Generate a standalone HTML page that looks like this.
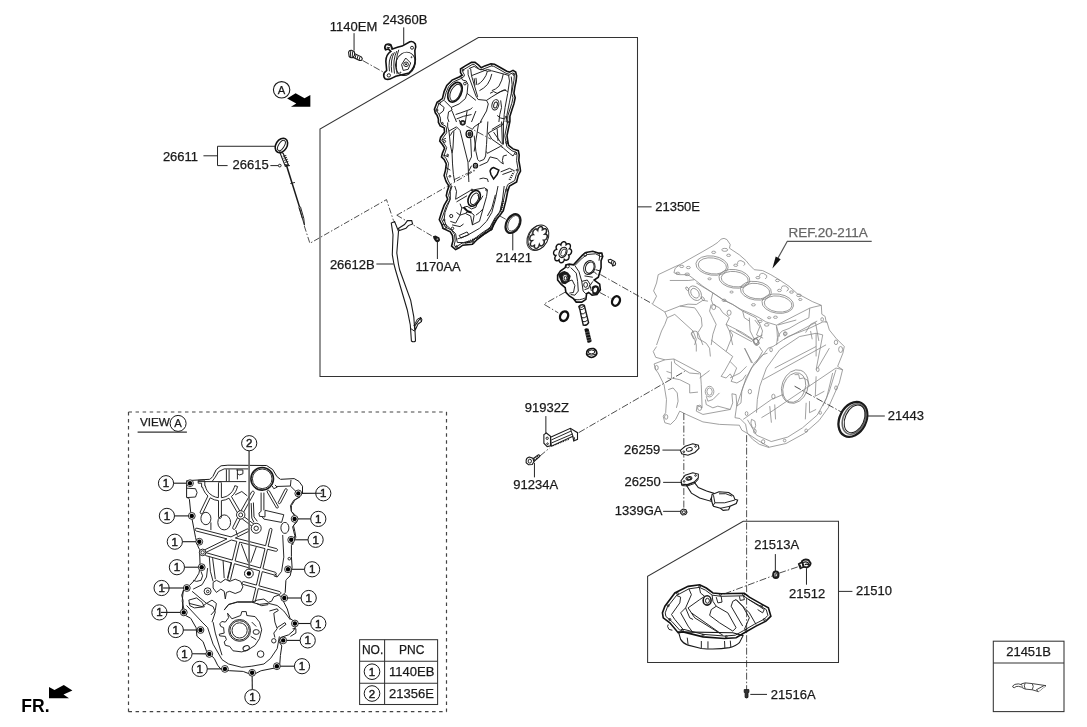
<!DOCTYPE html>
<html lang="en">
<head>
<meta charset="utf-8">
<title>Engine front cover and oil pan parts diagram</title>
<style>
html,body{margin:0;padding:0;background:#fff;}
body{width:1087px;height:727px;overflow:hidden;}
svg{display:block;will-change:transform;}
svg text{font-family:"Liberation Sans",sans-serif;font-size:13px;fill:#1a1a1a;stroke:#1a1a1a;stroke-width:0.25px;}
.l{fill:none;stroke:#1a1a1a;stroke-width:0.95;}
#viewA .l{stroke-width:0.92px;stroke:#222;}
.t{fill:none;stroke:#1a1a1a;stroke-width:0.7;}
.h{fill:none;stroke:#111;stroke-width:1.6;}
.w{fill:#fff;stroke:#1a1a1a;stroke-width:1.1;}
.k{fill:#1a1a1a;stroke:none;}
.d{fill:none;stroke:#222;stroke-width:0.8;stroke-dasharray:7 2 1.5 2;}
.g{fill:none;stroke:#868686;stroke-width:0.78;}
.gw{fill:#fff;stroke:#9a9a9a;stroke-width:0.7;}
.ds{fill:none;stroke:#555;stroke-width:0.9;stroke-dasharray:3 3;}
</style>
</head>
<body>
<svg width="1087" height="727" viewBox="0 0 1087 727">
<rect x="0" y="0" width="1087" height="727" fill="#fff"/>
<!-- main group frame 21350E -->
<g id="frames" fill="none" stroke="#333" stroke-width="1.05">
<path d="M478.4 37.5H637.5V376.5H320V129Z"/>
<path d="M637.5 206.85H651.6"/>
<!-- oil pan frame 21510 -->
<path d="M743.2 521.2H838.5V662.5H647.6V576.3Z"/>
<path d="M838.5 591.4H852.4"/>
<!-- view A dashed box -->
<path d="M128.5 412H446.6M128.5 412V711.7M128.5 711.6H446.6M446.5 412V711.7" stroke="#444" stroke-width="1.2" stroke-dasharray="3.5 3.56"/>
<!-- table -->
<rect x="359.6" y="639.7" width="78" height="64.8"/>
<path d="M384.6 639.7V704.5M359.6 661.3H437.6M359.6 683.3H437.6"/>
<!-- small box 21451B -->
<rect x="993.3" y="641.2" width="70.7" height="70.4"/>
<path d="M993.3 662.9H1064"/>
</g>
<!-- cylinder block reference drawing (light grey) -->
<g id="block">
<g class="g">
<!-- top deck -->
<path d="M717.83 242.39L721.14 239.08Q724.12 237.42 726.93 239.57L730.25 244.54L729.42 248.18L739.35 254.81L745.98 260.6L749.29 264.74L754.26 269.71L762.54 270.54L770.82 274.68L779.1 279.64L789.03 286.27L797.31 293.72L803.93 297.03L812.21 301.5L821.32 305.31L814.04 306.97L809.73 308.13L789.03 318.72L776.61 325.18L765.85 321.87L759.22 317.73L752.6 314.42L741.01 309.45L732.73 304.48L722.79 299.52L712.86 292.89L702.92 286.27L694.64 279.64L688.02 274.68L679.74 274.68L673.95 272.69L675.11 268.38L679.74 264.74L689.68 258.95L702.92 251.49L712.86 245.7Z"/>
<ellipse cx="712.03" cy="265.57" rx="16.23" ry="9.6" transform="rotate(8 712.03 265.57)"/>
<ellipse cx="712.36" cy="265.9" rx="14.24" ry="7.95" transform="rotate(8 712.36 265.9)"/>
<ellipse cx="734.39" cy="278.82" rx="15.57" ry="9.27" transform="rotate(8 734.39 278.82)"/>
<ellipse cx="734.72" cy="279.15" rx="13.58" ry="7.62" transform="rotate(8 734.72 279.15)"/>
<ellipse cx="755.91" cy="290.74" rx="15.57" ry="9.27" transform="rotate(8 755.91 290.74)"/>
<ellipse cx="756.24" cy="291.07" rx="13.58" ry="7.62" transform="rotate(8 756.24 291.07)"/>
<ellipse cx="777.77" cy="303.66" rx="15.9" ry="9.6" transform="rotate(8 777.77 303.66)"/>
<ellipse cx="778.1" cy="303.99" rx="13.91" ry="7.95" transform="rotate(8 778.1 303.99)"/>
<g>
<ellipse cx="713.69" cy="252.32" rx="1.99" ry="1.16"/><ellipse cx="724.78" cy="249.84" rx="2.98" ry="1.49"/><ellipse cx="728.59" cy="255.3" rx="1.99" ry="1.16"/><ellipse cx="681.73" cy="266.4" rx="1.99" ry="1.16"/><ellipse cx="688.35" cy="267.56" rx="1.99" ry="1.16"/><ellipse cx="677.75" cy="273.35" rx="1.99" ry="1.16"/><ellipse cx="687.19" cy="274.35" rx="2.32" ry="1.32"/>
<ellipse cx="735.71" cy="265.24" rx="1.99" ry="1.16"/><ellipse cx="757.9" cy="277.66" rx="1.99" ry="1.16"/><ellipse cx="777.44" cy="280.47" rx="1.99" ry="1.16"/><ellipse cx="779.43" cy="290.41" rx="1.99" ry="1.16"/><ellipse cx="791.51" cy="292.06" rx="1.99" ry="1.16"/><ellipse cx="798.97" cy="295.38" rx="2.32" ry="1.32"/><ellipse cx="800.29" cy="299.52" rx="1.66" ry="0.99"/>
<ellipse cx="709.55" cy="278.82" rx="1.66" ry="0.99"/><ellipse cx="731.57" cy="292.06" rx="1.66" ry="0.99"/><ellipse cx="753.43" cy="304.81" rx="1.99" ry="1.16"/><ellipse cx="724.12" cy="300.34" rx="1.99" ry="1.16"/><ellipse cx="760.05" cy="321.37" rx="1.99" ry="1.16"/><ellipse cx="766.68" cy="324.85" rx="2.32" ry="1.32"/><ellipse cx="769.16" cy="317.73" rx="1.66" ry="0.99"/><ellipse cx="775.45" cy="317.23" rx="1.99" ry="1.16"/>
<path d="M737.7 263.91Q736.87 260.6 741.01 260.6L744.32 262.26Q745.98 264.74 743.49 265.57M759.56 276.33Q759.22 273.02 763.36 273.35L766.68 275.5Q767.5 277.99 765.02 278.82M781.58 288.75Q780.75 285.44 785.39 285.94L788.2 287.92Q789.03 290.41 786.55 291.24"/>
</g>
<!-- front (timing) face -->
<path d="M679.74 264.74L675.6 266.4L658.21 274.68L656.56 282.96L653.58 290.9L656.56 296.2L652.42 304.15L664.84 311.93L679.74 306.14L688.02 304.15L696.3 304.48L702.92 300.34L707.89 301.17M669.81 280.47L688.85 280.47L694.64 279.64M664.84 311.93L667.32 317.73L664.84 324.35L661.53 330.98L656.56 345.05M667.32 317.73L674.77 314.42L692.99 330.98L696.3 339.26L694.64 345.05M692.99 330.98L691.33 334.29L693.82 339.26M679.74 306.14L694.64 307.79L697.13 311.11L701.27 317.73L702.1 326.01L697.96 332.63L702.92 345.05"/>
<ellipse cx="694.98" cy="293.22" rx="3.64" ry="5.3" transform="rotate(-35 694.98 293.22)"/>
<ellipse cx="694.98" cy="293.22" rx="5.63" ry="7.95" transform="rotate(-35 694.98 293.22)"/>
<ellipse cx="687.19" cy="288.75" rx="1.16" ry="1.99" transform="rotate(-35 687.19 288.75)"/><ellipse cx="702.92" cy="298.69" rx="1.16" ry="1.99" transform="rotate(-35 702.92 298.69)"/>
<!-- side -->
<path d="M696.3 282.96L712.86 292.89L722.79 299.52L732.73 304.48L742.67 311.11L755.91 317.73L759.22 322.7L762.54 330.98L760.88 337.6L755.91 345.05M712.86 292.89L711.2 299.52L712.86 304.48L719.48 307.79L722.79 312.76L729.42 317.73L726.11 324.35L732.73 327.67L742.67 332.63L752.6 339.26M711.2 304.48L709.55 311.11L712.86 317.73L716.17 324.35L712.86 334.29L711.2 345.05M726.11 324.35L729.42 330.98L732.73 345.05M742.67 311.11L744.32 317.73L749.29 321.04M749.29 317.73L750.12 330.98L754.26 339.26"/>
<ellipse cx="713.69" cy="306.97" rx="1.99" ry="2.65"/><ellipse cx="729.09" cy="312.76" rx="1.99" ry="2.65"/><ellipse cx="755.91" cy="340.91" rx="1.99" ry="2.98" transform="rotate(-20 755.91 340.91)"/>
<path d="M776.61 325.18L777.44 337.6L776.61 345.05M809.73 308.13L808.9 317.73L798.97 322.7L789.03 328.49L782.41 330.98Q777.44 334.29 777.77 340.91M821.32 305.31L821.82 314.25L825.13 316.41L826.29 323.03M784.06 339.26L808.9 326.01L815.53 322.7M805.59 332.63L810.56 324.35L817.18 321.04M810.56 330.98L812.21 339.26M815.53 322.7L818.84 340.91"/>
<ellipse cx="822.15" cy="319.39" rx="1.32" ry="1.82"/>
<ellipse cx="784.89" cy="333.96" rx="1.32" ry="1.99"/>
</g>
<g class="g">
<path d="M656.56 346.56L653.25 351.53L655.73 357.32L664.84 359.81L673.95 358.98L700.44 373.05L701.27 384.64L702.1 407.83L697.13 405.34L696.3 411.14L702.92 414.45L730.25 409.48L732.73 402.86L731.9 393.75L736.04 394.58L736.87 406.17L741.01 402.86L741.84 391.27L745.98 378.02L754.26 363.12L762.54 354.84L767.5 353.18"/>
<path d="M664.84 359.81L654.08 363.95L655.73 369.74L658.21 373.05L664.01 384.64L666.49 399.55L665.67 412.79L663.18 416.11L664.84 422.73L670.63 424.39L675.6 419.42L679.74 411.14L686.37 414.45L702.92 421.9L719.48 424.39L739.35 425.21L741.84 430.18L747.63 433.49L752.6 439.29L759.22 444.26L769.16 447.57"/>
<path d="M671.46 361.46L671.46 378.02L679.74 379.68L689.68 384.64L689.68 392.92L697.96 392.1M673.95 358.98L674.77 363.12L681.4 368.09L689.68 373.05L699.61 373.88M666.49 371.4L671.46 373.05M667.32 378.02L671.46 378.85M668.15 389.61L673.12 387.96L677.26 392.92L678.09 401.2L676.43 407.83M699.61 378.02L706.24 373.05L709.55 370.57"/>
<path d="M691.33 333.31Q692.99 330 697.13 331.66L697.96 338.28L706.24 343.25L709.55 348.21L710.38 356.49M691.33 333.31L694.64 339.11L696.3 344.9L696.3 351.53M711.2 339.94L726.11 351.53L732.73 356.49L724.45 371.4L721.14 376.37L726.11 378.02L730.25 373.88L732.73 378.02L731.07 381.33L736.87 382.99L742.67 379.68L745.98 374.71M729.42 330L732.73 334.97L726.11 351.53M744.32 348.21L752.6 363.12M759.22 346.56L762.54 351.53L755.91 363.12M736.04 330L752.6 339.94L762.54 334.97"/>
<ellipse cx="756.24" cy="341.92" rx="2.32" ry="3.31" transform="rotate(-30 756.24 341.92)"/>
<ellipse cx="709.55" cy="391.6" rx="2.65" ry="3.64"/><ellipse cx="709.55" cy="391.6" rx="4.31" ry="5.3"/>
<path d="M706.24 396.24L707.89 401.2L712.86 399.55L719.48 392.92M705.41 399.55L706.24 404.52L712.86 407.83L717.83 406.17L730.25 409.48"/>
<ellipse cx="666.16" cy="416.93" rx="1.66" ry="2.32"/><ellipse cx="656.56" cy="367.75" rx="1.66" ry="2.32"/><ellipse cx="699.61" cy="407.83" rx="1.99" ry="2.65"/>
</g>
<g class="g">
<!-- bell housing -->
<path d="M768.09 348.15L773.05 346.49L787.96 336.56L809.48 328.28L822.73 321.99L826.87 321.66L829.35 329.94L835.98 338.21L844.26 346.49L842.93 353.12L837.63 366.37L842.6 369.68L839.29 382.92L832.67 397.83L828.36 407.6L819.09 420.51L804.35 433.43L785.97 443.53L769.41 447.17L758.48 440.72L747.39 433.43L745.57 424.16L739.94 418.53L734.97 417.7L736.62 406.11L743.25 386.24L751.53 368.02L763.12 354.77Z"/>
<path d="M756.49 412.73L757.32 399.48L759.81 386.24L766.43 368.02L779.68 349.81L799.55 336.56L816.11 333.25L822.73 334.9"/>
<path d="M761.46 417.7L769.74 412.73L835.98 368.02L842.6 369.68M743.25 419.35L771.4 399.48L782.99 394.52M763.12 379.61L826.04 344.84M774.71 368.02L816.11 346.49M822.73 334.9L816.11 369.68M816.11 333.25L816.11 356.43M832.67 372.99L826.54 398.32L817.27 415.05L802.53 427.8L787.79 437.07L771.23 441.54L756.66 435.25L747.39 419.69M835.98 369.68L829.35 391.2L822.73 406.11M829.35 348.15L817.76 368.02M769.74 406.11L771.4 422.67M774.71 404.45L775.54 419.35M806.17 402.79L805.34 419.35M809.48 401.14L809.48 412.73L816.11 409.42M816.11 376.3L815.28 396.17L824.39 391.2"/>
<ellipse cx="794.91" cy="386.57" rx="12.92" ry="17.22" transform="rotate(20 794.91 386.57)"/>
<ellipse cx="794.25" cy="387.56" rx="10.93" ry="15.23" transform="rotate(20 794.25 387.56)"/>
<path d="M794.58 374.64L798.72 374.64L799.55 378.78L803.69 377.96L807.83 380.44L809.48 386.24"/>
<ellipse cx="771.07" cy="349.81" rx="1.32" ry="1.99"/><ellipse cx="835.98" cy="342.35" rx="1.66" ry="2.32"/><ellipse cx="840.61" cy="349.48" rx="1.99" ry="2.98"/><ellipse cx="749.87" cy="391.53" rx="1.66" ry="2.32"/><ellipse cx="773.38" cy="396.5" rx="1.66" ry="2.32"/><ellipse cx="746.56" cy="413.56" rx="1.32" ry="1.99"/><ellipse cx="763.12" cy="441.71" rx="1.66" ry="1.99"/><ellipse cx="806.17" cy="430.61" rx="1.32" ry="1.66"/><ellipse cx="754.84" cy="431.28" rx="1.32" ry="1.99"/><ellipse cx="784.64" cy="440.55" rx="1.32" ry="1.32"/><ellipse cx="820.25" cy="412.73" rx="1.16" ry="1.66"/><ellipse cx="835.98" cy="387.89" rx="1.32" ry="1.99"/><ellipse cx="817.76" cy="369.68" rx="1.32" ry="1.99"/><ellipse cx="785.47" cy="333.58" rx="1.66" ry="1.66"/>
<path d="M751.53 419.35Q749.87 422.67 752.35 427.63L754.84 428.46Q756.49 425.98 754.84 421.01Z"/>
<path d="M730 329.94L751.53 341.53L758.15 336.56M744.9 348.15L751.53 363.05M730 377.96L739.94 372.99L746.56 366.37M730 361.4L736.62 368.02L733.31 376.3M754.84 320L759.81 326.62L756.49 334.9L763.12 338.21M776.37 326.62L779.68 336.56M778.02 324.97L796.24 320"/>
<ellipse cx="756.16" cy="341.86" rx="2.65" ry="3.64" transform="rotate(-25 756.16 341.86)"/>
</g>
</g>
<!-- timing chain cover (perspective) -->
<g id="cover">
<path class="h" fill="#fff" d="M460.5 69.0L465.3 65.9L471.5 62.4L475.0 62.4L478.6 65.1L481.2 67.7L484.8 65.9L490.9 63.7L494.5 64.2L500.7 67.7L506.8 71.2L509.5 72.1L513.0 70.4L515.7 72.1L516.6 75.7L516.1 81.0L514.8 87.1L513.9 93.3L515.2 97.7L513.9 103.9L512.1 109.2L509.9 116.3L509.9 121.5L508.2 129.5L507.0 135.7L507.7 141.0L508.6 145.4L513.0 148.9L518.3 150.7L519.2 155.1L518.8 160.4L520.1 167.5L520.5 171.0L518.3 175.4L516.6 182.0L509.5 186.0L507.7 191.3L506.0 200.1L503.3 210.7L500.7 214.3L497.1 218.7L493.6 224.9L491.8 229.3L484.8 233.7L477.7 239.0L474.2 242.5L472.4 244.3L462.7 245.2L459.1 247.8L455.6 249.6L452.5 246.9L451.6 246.1L453.0 240.8L452.5 235.5L450.3 231.9L443.2 228.4L441.5 224.0L439.3 219.6L441.5 212.5L444.1 205.4L447.7 199.2L446.3 195.7L447.2 191.3L449.0 186.0L446.3 182.0L445.5 179.8L444.1 175.4L445.5 170.1L446.3 163.9L444.1 159.5L441.5 156.9L442.4 153.3L444.6 148.0L442.4 144.5L439.7 141.0L440.6 137.4L444.6 132.1L444.1 127.7L440.2 125.9L438.4 122.4L438.4 118.9L437.1 115.4L435.3 112.8L434.4 109.2L437.1 102.2L442.4 98.6L444.1 91.6L446.8 85.4L452.1 80.1L459.1 77.0L462.2 75.2L460.5 72.6Z"/>
<path id="cover-inset" class="l" d="M454.1 245.4L455.9 247.0L462.1 243.1L471.4 242.2L476.4 237.2L483.4 231.9L490.0 227.8L491.7 223.8L495.2 217.6L501.3 209.8L505.6 190.9L507.5 185.1L508.2 184.2L514.7 180.6L516.3 174.6L518.3 170.6L516.6 160.6L517.0 155.2L516.4 152.4L512.0 150.8L506.8 146.6L504.8 135.7L507.7 121.3L507.8 115.8L511.8 103.3L513.0 97.8L511.7 93.3L513.9 80.6L514.3 75.8L513.7 73.5L512.9 72.9L509.6 74.3L506.1 73.3L493.8 66.3L491.2 66.0L481.0 69.9L479.8 69.4L474.3 64.6L472.1 64.6L462.7 70.2L462.7 71.9L464.4 74.8L464.1 76.4L460.2 78.9L453.3 81.9L448.6 86.6L446.2 92.3L444.3 99.7L438.9 103.6L436.7 109.4L437.3 111.9L439.0 114.4L440.5 118.2L440.6 121.9L441.8 124.3L445.4 125.9L446.3 127.3L446.7 132.7L442.6 138.4L442.1 140.5L446.7 147.6L443.9 156.2L446.0 158.3L448.5 163.4L447.6 170.4L446.4 175.4L448.3 181.0L451.2 185.8L448.6 195.5L449.8 198.7L449.7 199.9L446.1 206.4L441.6 219.4L445.0 226.8L451.6 230.2L454.5 234.5L455.2 240.8L454.1 245.4Z"/>
<g>
<g class="l">
<path d="M468.86 68.6L474.16 66.39L479.46 69.48L482.11 69.48L487.41 71.25L491.82 70.81L503.31 73.9L509.49 75.66M467.98 69.48L468.15 74.78L475.93 95.98L478.13 99.51M470.63 68.6L471.51 75.66L477.69 96.86M474.16 78.31L475.04 85.38M475.93 77.87L476.81 84.94M471.51 75.66L487.41 69.48L490.94 70.36"/>
<path d="M487.41 71.25Q486.52 75.66 482.99 80.08Q480.34 83.17 477.69 84.5M491.82 73.9Q490.94 79.2 487.41 84.5Q483.88 88.47 479.46 90.68M503.31 73.9Q502.42 80.08 498.89 86.26Q495.8 89.35 491.82 90.68"/>
<path d="M508.6 75.66L509.49 80.96L507.72 93.33L505.07 107.46L504.19 114.52L503.75 122.03M511.25 76.55L512.14 84.5L511.25 93.33L509.49 102.16L506.84 115.41L506.13 122.03"/>
<path d="M478.13 99.51L486.52 100.39L488.29 103.93L486.52 110.99L482.99 117.17L480.34 122.03M486.52 100.39L491.82 96.86L500.66 91.56L505.96 89.8M490.06 93.33L493.59 91.56L497.12 93.33L504.19 89.8L507.72 91.56M500.66 100.39L501.54 107.46L499.77 114.52L498.89 122.03M497.12 115.41L500.66 118.06L505.07 118.94"/>
<path d="M444.13 100.39L451.2 107.46L452.08 110.11L448.55 111.88L447.66 118.06L448.99 122.03M451.2 107.46L459.15 103.93L465.33 98.63L467.09 93.33L467.98 84.5L466.21 80.96L462.68 80.08M467.09 93.33L475.93 100.39M455.61 114.52L460.91 112.76L470.63 109.23L472.39 107.46M456.5 118.94L463.56 116.29L471.51 114.52M462.68 80.08L460.91 76.99M439.72 103.93L444.13 107.46L443.25 110.99L438.83 114.52"/>
<path d="M452.08 110.99L456.5 122.03M459.15 119.82L460.03 122.03M467.09 110.99L465.33 122.03M475.93 110.99L471.51 122.03"/>
</g>
<ellipse cx="454.99" cy="92.27" rx="6.36" ry="10.42" transform="rotate(25 454.99 92.27)" fill="#fff" stroke="#111" stroke-width="1.7"/>
<ellipse class="l" cx="455.61" cy="92.62" rx="4.86" ry="8.83" transform="rotate(25 455.61 92.62)"/>
<path d="M459.15 95.09L461.35 89.8M458.26 97.3L460.91 92M456.94 99.07L460.03 94.21M455.61 100.39L458.7 96.86" stroke="#333" stroke-width="0.7" fill="none"/>
<ellipse class="l" cx="495.36" cy="104.81" rx="3.36" ry="5.3" transform="rotate(15 495.36 104.81)"/>
<ellipse class="l" cx="495.53" cy="104.99" rx="1.77" ry="3.09" transform="rotate(15 495.53 104.99)"/>
<g class="l"><circle cx="464.89" cy="83.61" r="1.32"/><circle cx="439.27" cy="102.6" r="1.24"/><circle cx="436.89" cy="110.11" r="1.06"/><circle cx="463.12" cy="70.1" r="0.79"/><circle cx="513.73" cy="74.34" r="0.97"/><circle cx="491.82" cy="64.89" r="0.53"/><circle cx="505.96" cy="117.17" r="0.88"/></g>
</g>
<g>
<g class="l">
<path d="M447.66 122.42L447.66 126.83L448.99 131.25L450.31 144.5L452.08 153.33L452.52 163.93L453.4 174.52L454.73 182.03M453.85 131.25L452.96 148.03L452.08 153.33"/>
<path d="M460.91 133.9L460.03 130.36L456.5 126.83L448.55 131.25M460.91 133.9L467.98 162.16L468.86 182.03M470.63 138.31L471.51 156.86L468.86 162.16M474.16 135.66L475.93 151.56L477.69 159.51L479.46 161.28L483.88 159.51L485.64 155.98L486.52 144.5L487.85 121.53M482.11 121.53L474.16 126.83L472.39 129.48M478.58 123.3L474.16 151.56"/>
<path d="M488.29 133.01L502.42 125.07L503.75 121.53M491.82 129.48L500.66 124.18M488.29 133.01L491.82 139.2L500.66 145.38L502.42 146.26M493.59 132.13L501.54 143.61M497.12 128.6L498.01 140.96M501.54 121.53L502.42 144.5M503.48 121.53L503.48 144.5"/>
<path d="M487.41 153.33L500.66 146.26L503.31 148.03L509.49 153.33L513.02 155.98L514.79 153.33M487.41 153.33L486.52 151.56M490.06 156.86L497.12 158.63L500.66 162.16L503.31 163.93L502.42 160.39L503.31 155.98L506.84 155.09M479.46 165.69L487.41 162.16L490.06 156.86"/>
<path d="M500.66 171.88L509.49 168.34L514.79 170.99M502.42 174.52L512.14 170.99M479.46 178.94Q482.99 177.17 487.41 178.94L488.29 182.03M471.51 165.69L468.86 170.99"/>
<path d="M456.5 128.6L452.08 132.13L450.31 135.66M441.48 140.08L445.9 138.31M443.25 155.09L448.55 156.86M445.9 167.46L450.31 170.11"/>
</g>
<path class="d" d="M453.85 179.82L474.16 170.11M466.21 125.95L490.94 139.2"/>
<path d="M490.06 170.99Q490.94 167.9 493.59 167.46L498.89 170.11L497.12 174.52L493.59 178.94L490.94 174.52Z" fill="none" stroke="#111" stroke-width="1.5"/>
<path d="M509.49 179.82L513.9 171.88" stroke="#111" stroke-width="2.2" stroke-dasharray="1 1.2" fill="none"/>
<ellipse cx="462.68" cy="122.86" rx="2.65" ry="2.3" fill="#333" stroke="#111" stroke-width="1"/>
<ellipse cx="462.86" cy="122.86" rx="1.06" ry="0.88" fill="#fff"/>
<ellipse cx="469.3" cy="133.9" rx="3.18" ry="3.53" fill="#fff" stroke="#111" stroke-width="1.4"/>
<ellipse cx="469.57" cy="134.07" rx="1.59" ry="1.94" fill="#444" stroke="#111" stroke-width="1"/>
<ellipse cx="475.48" cy="165.69" rx="2.12" ry="2.3" fill="#fff" stroke="#111" stroke-width="1.2"/>
<ellipse class="l" cx="475.57" cy="165.87" rx="0.88" ry="1.06"/>
<g class="l"><circle cx="506.84" cy="142.73" r="1.06"/><circle cx="515.67" cy="153.33" r="1.06"/><circle cx="507.72" cy="121.97" r="0.88"/><circle cx="444.57" cy="141.4" r="1.06"/><circle cx="447.66" cy="155.09" r="0.88"/><circle cx="449.87" cy="176.29" r="0.88"/><circle cx="442.36" cy="123.3" r="0.88"/><circle cx="517" cy="170.11" r="0.88"/></g>
</g>
<g>
<g class="l">
<path d="M452.08 186L450.31 191.3L450.31 199.25L447.66 205.43L445.01 212.5L444.13 219.56L445.9 224.86L452.08 230.16L455.61 233.69L456.5 238.99L457.38 242.52L463.56 242.52L471.51 240.76L479.46 236.34L486.52 231.04L491.82 225.74L495.36 218.68L499.77 212.5L502.42 200.13L504.19 186"/>
<path d="M455.61 199.25L470.63 190.42L484.76 187.77L487.41 190.42L486.52 196.6L482.99 208.96L479.46 221.33L472.39 224.86L470.63 216.03L465.33 213.38L460.03 215.15L455.61 223.09L450.31 221.33M456.5 201.9L467.09 195.72M452.08 224.86L460.03 226.63L463.56 223.98M457.38 238.99L467.09 235.46L479.46 228.39L486.52 221.33L491.82 212.5L495.36 199.25L498.01 186M487.41 216.03L491.82 208.08L495.36 194.83M454.73 186L456.5 191.3L455.61 199.25"/>
<path d="M459.15 235.46L467.09 231.93L468.86 234.58L460.91 238.11ZM442.81 223.98L446.34 224.86L445.9 229.28L442.36 228.39Z"/>
<path d="M460.03 215.15L461.8 208.08L467.09 206.31L471.51 208.96L475.93 207.2L477.69 201.9M465.33 213.38L468.86 210.73L474.16 215.15L472.39 224.86M461.8 208.08L460.03 203.66M475.93 215.15L479.46 212.5L482.99 208.96M477.69 194.83L480.34 200.13L482.99 195.72M456.5 212.5L460.03 215.15"/>
</g>
<path d="M465.33 243.23L479.46 236.78L487.41 231.04L492.27 225.74L495.8 218.86" stroke="#111" stroke-width="2.4" stroke-dasharray="0.9 1" fill="none"/>
<path d="M500.66 211.61L503.31 200.13" stroke="#111" stroke-width="2.2" stroke-dasharray="0.9 1.1" fill="none"/>
<ellipse cx="474.16" cy="198.36" rx="5.48" ry="8.39" transform="rotate(28 474.16 198.36)" fill="none" stroke="#111" stroke-width="1.6"/>
<ellipse class="l" cx="474.6" cy="198.81" rx="3.53" ry="6.18" transform="rotate(28 474.6 198.81)"/>
<path d="M463.56 207.2L467.98 211.61L471.51 212.5" stroke="#111" stroke-width="2" fill="none"/>
<g class="l"><circle cx="451.2" cy="216.03" r="1.59"/><circle cx="452.52" cy="228.39" r="1.24"/><circle cx="490.94" cy="229.28" r="1.06"/><circle cx="473.28" cy="242.52" r="1.06"/><circle cx="456.5" cy="246.76" r="1.06"/><circle cx="506.84" cy="189.97" r="1.06"/><circle cx="471.95" cy="189.97" r="0.88"/><circle cx="486.52" cy="189.97" r="0.88"/><circle cx="444.13" cy="220" r="0.88"/></g>
</g>
</g>
<!-- bolt 1140EM, sensor 24360B, view arrow A -->
<g id="topleft">
<path class="l" d="M354.06 33.18V50.57M403.73 27.39V44.77"/>
<path class="d" d="M362.67 60.5L383.36 72.1"/>
<!-- bolt -->
<g class="l">
<path class="w" d="M352.73 52.72L361.34 56.86Q363 58.35 361.84 60.01Q360.35 61 359.02 60.17L351.07 56.37Z"/>
<path class="w" d="M348.59 52.23Q349.09 50.07 351.41 50.24L354.06 51.4Q355.21 53.38 354.39 55.54L352.4 57.69Q350.25 58.02 349.09 56.37Z"/>
<path d="M350.74 50.9L350.25 57.19M352.73 51.4L352.07 57.69M356.04 54.71L355.05 58.02M358.03 55.7L357.04 59.18M360.02 56.7L359.02 60.01"/>
</g>
<!-- sensor -->
<g class="l">
<path class="h" fill="#fff" d="M402.08 46.1L409.86 41.79Q413.17 40.63 415.32 43.95Q416.48 47.26 414.83 50.57L415.32 59.68Q414.83 67.96 409.03 72.92L395.78 76.24L392.47 77.89Q388.33 80.38 385.02 78.72Q382.87 76.24 384.19 72.92L386.68 70.44L385.85 61.33Q385.85 54.71 390.82 51.4L388.33 48.91L385.52 49.74Q383.86 47.26 385.85 44.77Q388.33 43.12 390.82 44.77L392.47 48.91L397.44 47.26Z"/>
<ellipse cx="405.39" cy="63.82" rx="9.6" ry="11.92" transform="rotate(20 405.39 63.82)"/>
<path d="M392.47 53.38Q387.84 59.68 389.49 71.27M394.46 52.23Q389.99 59.68 391.81 72.59M396.78 51.07Q392.47 59.68 394.46 73.59M398.76 49.74Q394.96 59.68 397.11 74.25"/>
<path d="M405.72 58.02L410.69 62.99L408.2 69.28L403.24 70.44L401.58 64.64Z"/>
<circle cx="406.05" cy="64.31" r="2.32"/><circle class="k" cx="406.05" cy="64.31" r="0.99"/>
<circle cx="412.01" cy="47.75" r="1.49"/><circle cx="388.83" cy="75.41" r="1.66"/>
<circle cx="411.51" cy="57.19" r="0.5"/><circle cx="400.42" cy="72.59" r="0.5"/>
<path d="M387.5 45.11L390.82 45.6L391.64 49.74M386.68 47.26L389.99 47.75"/>
</g>
<!-- A marker -->
<circle class="w" cx="281.61" cy="89.81" r="8.2"/>
<polygon points="287.16,98.43 295.6,93.13 304.54,98.26 310.34,95.11 310.34,106.7 290.97,106.7 296.26,103.39" fill="#000"/>
</g>
<text x="281.6" y="93.9" text-anchor="middle" style="font-size:11.2px">A</text>
<!-- dipstick 26611 / 26615 and guide tube 26612B -->
<g id="dipstick">
<g>
<path class="l" d="M203.45 155.8H217.52M275.2 146.28H217.52V165.6H227.6M270.37 165.6H278.1"/>
<circle class="l" cx="279.76" cy="165.6" r="1.38"/>
<path class="w" d="M279.76 152.08L283.07 153.18L288.31 164.5L285.28 166.15Z"/>
<path class="l" d="M282.79 156.22L286.24 155.53M283.48 158.29L286.93 157.32M284.17 160.36L287.76 159.25M284.73 162.43L288.31 161.46M285 164.5L289.69 165.6L285.28 166.15"/>
<ellipse class="h" fill="#fff" cx="281.41" cy="145.45" rx="5.52" ry="7.73" transform="rotate(32 281.41 145.45)"/>
<ellipse class="l" cx="281.41" cy="145.45" rx="2.76" ry="5.8" transform="rotate(32 281.41 145.45)"/>
<path d="M286.52 165.46L299.63 207.27" fill="none" stroke="#1a1a1a" stroke-width="1.5"/>
<path class="l" d="M298.8 207.27L303.22 221.07L304.46 225.21M300.46 206.72L303.77 218.31L304.46 225.21M290.38 183.54L294.94 182.44M299.63 207.96L302.39 218.31"/>
</g>
<path class="d" d="M304.3 226L309.9 243.3L386.5 199.6L393.5 220.6M396.8 215.2L475 170.5M396.8 215.2L434 237.2" style="stroke-dasharray:6 2 1.5 2"/>
<path class="w" d="M391.3 223.1L393 234.7L392.3 254.6L394 264.5L395.5 270L407.3 310L410.3 325L411.4 341Q413.4 342.6 415.5 341L414.8 326L420.5 318L421.5 321.5L418 324L414.8 331L413.8 316.9L410.7 300.4L399.7 270L398.5 264.5L396.8 253L398.5 231.4L394.6 221.5Z"/>
<path class="l" d="M410.7 328.5L414.8 331.4M413.8 326L417.5 319L421 317.5Q422.5 319.5 421.5 321.5"/>
<path class="w" d="M398.3 228.5L404.5 224.5L407.5 220.6L411.7 220.6L412.6 224L408.4 225.6L406 228.2L399.3 230.6Z"/>
<path class="l" d="M376.4 264H393.5"/>
<!-- bolt 1170AA -->
<path class="l" d="M437.4 241.5V259"/>
<path class="k" d="M433 236.2L435.5 235.4L439.4 237.5Q440.6 239.6 439.2 241.6Q437 242.8 435.3 241.3L433.6 238.7Z"/>
<circle cx="437.4" cy="239.2" r="0.9" fill="#999"/>
</g>
<!-- seal 21421, rotors, oil pump, o-rings, relief valve -->
<g id="pump">
<g>
<path class="d" d="M499.66 215.87L505.87 219.32"/>
<path class="l" d="M512.77 233.12V250.37"/>
</g>
<!-- seal 21421 -->
<ellipse cx="513" cy="223.6" rx="6.6" ry="10" transform="rotate(28 513 223.6)" fill="#fff" stroke="#1a1a1a" stroke-width="2.2"/>
<ellipse cx="513.6" cy="223.3" rx="5" ry="8.4" transform="rotate(28 513.6 223.3)" fill="none" stroke="#333" stroke-width="0.8"/>
<!-- outer rotor -->
<ellipse cx="537.3" cy="238" rx="9.6" ry="13.2" transform="rotate(28 537.3 238)" fill="#fff" stroke="#333" stroke-width="1"/>
<ellipse cx="538.4" cy="237.5" rx="9.6" ry="13.2" transform="rotate(28 538.4 237.5)" fill="#fff" stroke="#1a1a1a" stroke-width="1"/>
<path d="M543.6 240.1L544.3 240.9L544.4 241.6L544.4 242.2L544.2 242.8L544.1 243.4L543.8 243.9L543.5 244.4L543.1 244.8L542.7 245.2L542.3 245.5L541.8 245.7L541.4 245.8L540.9 245.8L540.4 245.7L539.9 245.4L539.4 244.4L539.2 245.7L538.9 246.5L538.5 247.0L538.1 247.5L537.6 247.8L537.2 248.1L536.7 248.3L536.3 248.3L535.9 248.3L535.5 248.2L535.2 247.9L534.9 247.6L534.6 247.2L534.5 246.7L534.4 246.0L534.8 244.6L533.8 245.7L533.2 246.0L532.7 246.2L532.2 246.2L531.8 246.2L531.4 246.0L531.1 245.7L530.8 245.4L530.6 245.0L530.5 244.5L530.5 244.0L530.5 243.5L530.7 242.9L530.9 242.2L531.3 241.5L532.4 240.6L531.2 240.7L530.7 240.5L530.4 240.2L530.1 239.8L529.9 239.3L529.8 238.9L529.8 238.3L529.9 237.8L530.1 237.3L530.3 236.7L530.6 236.2L530.9 235.8L531.4 235.3L531.9 235.0L532.5 234.7L533.6 234.7L532.9 233.9L532.8 233.2L532.8 232.6L533.0 232.0L533.1 231.4L533.4 230.9L533.7 230.4L534.1 230.0L534.5 229.6L534.9 229.3L535.4 229.1L535.8 229.0L536.3 229.0L536.8 229.1L537.3 229.4L537.8 230.4L538.0 229.1L538.3 228.3L538.7 227.8L539.1 227.3L539.6 227.0L540.0 226.7L540.5 226.5L540.9 226.5L541.3 226.5L541.7 226.6L542.0 226.9L542.3 227.2L542.6 227.6L542.7 228.1L542.8 228.8L542.4 230.2L543.4 229.1L544.0 228.8L544.5 228.6L545.0 228.6L545.4 228.6L545.8 228.8L546.1 229.1L546.4 229.4L546.6 229.8L546.7 230.3L546.7 230.8L546.7 231.3L546.5 231.9L546.3 232.6L545.9 233.3L544.8 234.2L546.0 234.1L546.5 234.3L546.8 234.6L547.1 235.0L547.3 235.5L547.4 235.9L547.4 236.5L547.3 237.0L547.1 237.5L546.9 238.1L546.6 238.6L546.3 239.0L545.8 239.5L545.3 239.8L544.7 240.1L543.6 240.1Z" fill="none" stroke="#1a1a1a" stroke-width="1.3"/>
<path d="M542.9 240.5L543.6 241.3L543.7 242.0L543.7 242.6L543.5 243.2L543.4 243.8L543.1 244.3L542.8 244.8L542.4 245.2L542.0 245.6L541.6 245.9L541.1 246.1L540.7 246.2L540.2 246.2L539.7 246.1L539.2 245.8L538.7 244.8L538.5 246.1L538.2 246.9L537.8 247.4L537.4 247.9L536.9 248.2L536.5 248.5L536.0 248.7L535.6 248.7L535.2 248.7L534.8 248.6L534.5 248.3L534.2 248.0L533.9 247.6L533.8 247.1L533.7 246.4L534.1 245.0L533.1 246.1L532.5 246.4L532.0 246.6L531.5 246.6L531.1 246.6L530.7 246.4L530.4 246.1L530.1 245.8L529.9 245.4L529.8 244.9L529.8 244.4L529.8 243.9L530.0 243.3L530.2 242.6L530.6 241.9L531.7 241.0L530.5 241.1L530.0 240.9L529.7 240.6L529.4 240.2L529.2 239.7L529.1 239.3L529.1 238.7L529.2 238.2L529.4 237.7L529.6 237.1L529.9 236.6L530.2 236.2L530.7 235.7L531.2 235.4L531.8 235.1L532.9 235.1L532.2 234.3L532.1 233.6L532.1 233.0L532.3 232.4L532.4 231.8L532.7 231.3L533.0 230.8L533.4 230.4L533.8 230.0L534.2 229.7L534.7 229.5L535.1 229.4L535.6 229.4L536.1 229.5L536.6 229.8L537.1 230.8L537.3 229.5L537.6 228.7L538.0 228.2L538.4 227.7L538.9 227.4L539.3 227.1L539.8 226.9L540.2 226.9L540.6 226.9L541.0 227.0L541.3 227.3L541.6 227.6L541.9 228.0L542.0 228.5L542.1 229.2L541.7 230.6L542.7 229.5L543.3 229.2L543.8 229.0L544.3 229.0L544.7 229.0L545.1 229.2L545.4 229.5L545.7 229.8L545.9 230.2L546.0 230.7L546.0 231.2L546.0 231.7L545.8 232.3L545.6 233.0L545.2 233.7L544.1 234.6L545.3 234.5L545.8 234.7L546.1 235.0L546.4 235.4L546.6 235.9L546.7 236.3L546.7 236.9L546.6 237.4L546.4 237.9L546.2 238.5L545.9 239.0L545.6 239.4L545.1 239.9L544.6 240.2L544.0 240.5L542.9 240.5Z" fill="none" stroke="#444" stroke-width="0.7"/>
<!-- inner rotor -->
<path d="M568.5 255.0L568.9 255.7L569.1 256.3L569.1 256.9L569.0 257.4L568.9 258.0L568.7 258.5L568.4 259.0L568.1 259.4L567.7 259.7L567.3 260.0L566.8 260.2L566.3 260.3L565.9 260.3L565.4 260.2L564.9 260.0L564.3 259.4L564.1 260.4L563.8 261.0L563.5 261.5L563.1 261.9L562.7 262.3L562.2 262.5L561.8 262.7L561.3 262.8L560.9 262.7L560.5 262.6L560.1 262.4L559.8 262.1L559.5 261.7L559.2 261.2L559.1 260.6L559.1 259.7L558.4 260.3L557.9 260.6L557.3 260.7L556.9 260.7L556.4 260.7L556.0 260.5L555.6 260.3L555.3 260.0L555.1 259.6L554.9 259.1L554.8 258.6L554.8 258.1L554.9 257.5L555.1 256.9L555.4 256.3L555.9 255.5L555.2 255.5L554.7 255.2L554.3 254.9L554.0 254.5L553.8 254.1L553.6 253.6L553.6 253.1L553.6 252.6L553.7 252.1L553.9 251.6L554.1 251.1L554.5 250.6L554.9 250.2L555.3 249.8L555.9 249.6L556.7 249.4L556.3 248.7L556.1 248.1L556.1 247.5L556.2 247.0L556.3 246.4L556.5 245.9L556.8 245.4L557.1 245.0L557.5 244.7L557.9 244.4L558.4 244.2L558.9 244.1L559.3 244.1L559.8 244.2L560.3 244.4L560.9 245.0L561.1 244.0L561.4 243.4L561.7 242.9L562.1 242.5L562.5 242.1L563.0 241.9L563.4 241.7L563.9 241.6L564.3 241.7L564.7 241.8L565.1 242.0L565.4 242.3L565.7 242.7L566.0 243.2L566.1 243.8L566.1 244.7L566.8 244.1L567.3 243.8L567.9 243.7L568.3 243.7L568.8 243.7L569.2 243.9L569.6 244.1L569.9 244.4L570.1 244.8L570.3 245.3L570.4 245.8L570.4 246.3L570.3 246.9L570.1 247.5L569.8 248.1L569.3 248.9L570.0 248.9L570.5 249.2L570.9 249.5L571.2 249.9L571.4 250.3L571.6 250.8L571.6 251.3L571.6 251.8L571.5 252.3L571.3 252.8L571.1 253.3L570.7 253.8L570.3 254.2L569.9 254.6L569.3 254.8L568.5 255.0Z" fill="#fff" stroke="#111" stroke-width="1.4"/>
<ellipse cx="563" cy="252.4" rx="3.6" ry="5.4" transform="rotate(25 563 252.4)" fill="none" stroke="#1a1a1a" stroke-width="1.2"/>
<ellipse cx="563.4" cy="252.6" rx="2.2" ry="3.9" transform="rotate(25 563.4 252.6)" fill="none" stroke="#1a1a1a" stroke-width="0.8"/>
<g></g>
<g>
<path class="d" d="M600.38 274.5L651.99 303.61M565.2 292.16L543.81 304.17L558.3 312.86M599.69 292.44L611.42 298.65"/>
<!-- pump body -->
<path class="h" fill="#fff" d="M582.44 255.18L585.89 252.42L592.79 251.32L598.31 253.11L601.76 253.11L602.73 256.56L601.07 260.7L601.07 267.6L599.69 272.43L598.31 277.26L594.17 280.02L599.69 284.16L600.38 289.68L596.93 294.51L592.1 295.2L588.65 292.44L586.58 293.82L585.89 299.34L581.75 302.1L576.24 302.1L573.48 298.65L569.34 295.89L565.89 292.44L565.2 287.61L561.06 284.16L557.61 280.02L557.61 275.19L560.37 271.05L565.2 267.6L565.89 264.84L569.34 264.15L573.48 264.84Z"/>
<g class="l">
<ellipse cx="589.34" cy="267.6" rx="5.52" ry="7.18" transform="rotate(20 589.34 267.6)"/>
<ellipse cx="589.76" cy="267.6" rx="4.14" ry="5.8" transform="rotate(20 589.76 267.6)"/>
<path d="M574.86 265.53L582.44 257.94L587.27 254.49L595.55 253.8L599.69 255.87L599 260.7M595.55 269.67L600.38 271.05M587.27 274.5L594.17 271.74L596.93 274.5M584.51 275.88L592.79 277.26M574.86 265.53L579 271.74L581.75 281.4L583.13 291.06L585.89 293.82M570.72 267.6L576.24 273.12L577.62 281.4L578.31 291.06L574.86 295.2L570.72 294.51M567.96 281.4L572.1 280.02L574.86 285.54L573.48 292.44L569.34 293.13"/>
<path d="M581.75 281.4L587.27 280.02L590.03 284.16L588.65 288.3L584.51 289.68M592.79 281.4L590.03 285.54L591.41 291.06M574.86 299.34Q579 300.72 585.2 297.96"/>
<ellipse cx="585.62" cy="284.85" rx="1.93" ry="2.48"/>
<circle cx="585.2" cy="254.49" r="1.66"/><circle cx="600.8" cy="254.9" r="1.66"/><circle cx="567.68" cy="266.22" r="1.66"/>
</g>
<path d="M558.3 275.19Q560.37 271.74 564.51 271.05L567.96 272.43L570.72 275.88L569.34 281.4L565.2 284.16L561.75 283.47Z" fill="#1a1a1a"/>
<ellipse cx="565.2" cy="277.95" rx="2.76" ry="3.59" fill="#fff" stroke="#1a1a1a"/>
<ellipse cx="565.47" cy="278.22" rx="1.38" ry="1.93" fill="none" stroke="#1a1a1a"/>
<path d="M591.69 286.92Q594.86 284.16 598.31 286.23L599.69 289.68L596.93 294.09L592.52 294.51Z" fill="#1a1a1a"/>
<ellipse cx="595.28" cy="289.95" rx="2.21" ry="3.04" fill="#fff" stroke="#1a1a1a" transform="rotate(20 595.28 289.95)"/>
<!-- small bolt -->
<path class="w" d="M608.25 260.01L610.46 259.32L614.87 261.8Q616.25 263.46 615.15 265.11L612.8 265.94L611.84 263.73L608.66 262.08Z"/>
<path class="l" d="M611.84 260.7L611.42 263.73M613.49 262.08L612.8 265.67"/>
<!-- o-rings -->
<ellipse cx="615.98" cy="300.99" rx="3.73" ry="4.97" transform="rotate(25 615.98 300.99)" fill="#fff" stroke="#111" stroke-width="2.4"/>
<ellipse cx="564.09" cy="316.17" rx="3.86" ry="4.97" transform="rotate(25 564.09 316.17)" fill="#fff" stroke="#111" stroke-width="2.4"/>
</g>
<g>
<!-- relief valve -->
<path class="w" d="M578.86 306.56Q581.4 303.8 584.38 305.46L588.58 322.57Q586.92 325.88 583.28 325.11L581.07 315.39L579.96 309.87Z" style="stroke-width:1.4px"/>
<path class="l" d="M579.74 309.32Q582.5 310.42 584.71 307.88M580.63 313.74Q583.28 314.84 585.82 312.08M581.51 317.6Q584.16 318.7 586.92 316.28M582.39 321.46Q585.04 322.57 587.8 320.03M579.19 306.56Q581.73 308.55 584.16 306.01"/>
<!-- spring -->
<path d="M584.38 329.19Q586.37 327.54 588.58 328.86L591.67 341.34Q589.9 343.54 587.47 342.44Z" fill="#111"/>
<path d="M585.04 332.5L589.68 331.73M585.71 335.26L590.23 334.38M586.37 338.02L590.78 337.25M586.92 340.56L591.34 339.68" stroke="#999" stroke-width="0.6" fill="none"/>
<!-- plug -->
<path class="h" fill="#fff" d="M586.92 351.27Q588.58 347.96 593.54 348.51Q596.86 350.17 596.86 353.48Q595.75 356.79 591.34 357.56Q587.47 356.79 586.59 354.03Z"/>
<path class="l" d="M588.58 350.94Q591.34 349.06 594.65 350.72L594.32 353.15Q591.34 354.58 588.58 353.15ZM586.92 354.03Q591.34 356.24 596.52 354.03"/>
</g>
</g>
<!-- REF arrow, rear seal 21443, bracket 91932Z, bolt 91234A, gasket 26259, strainer 26250, nut 1339GA -->
<g id="lower">
<path d="M871.7 241.3H787.3L775.5 262.5" fill="none" stroke="#555" stroke-width="1.2"/>
<path d="M772.4 268.4L775.7 256.4L780.7 259.2Z" fill="#111"/>
<!-- seal 21443 -->
<path class="d" d="M794.6 386.2L842.6 412.7"/>
<ellipse cx="852.9" cy="419.4" rx="13.2" ry="18.4" transform="rotate(27 852.9 419.4)" fill="#fff" stroke="#1a1a1a" stroke-width="2.3"/>
<ellipse cx="854" cy="419" rx="10.8" ry="16" transform="rotate(24 854 419)" fill="none" stroke="#666" stroke-width="1.6"/>
<ellipse cx="854.6" cy="418.8" rx="9.4" ry="14.6" transform="rotate(24 854.6 418.8)" fill="none" stroke="#1a1a1a" stroke-width="1"/>
<path class="l" d="M867.4 416H884.8"/>
<g>
<path class="d" d="M578.66 432.66L684.63 371.39M539.74 456.17L549.68 447.89"/>
<path class="l" d="M545.87 416.1V433.82M534.44 462.79V477.37"/>
<path class="w" d="M550.5 437.13L570.38 428.35L577.5 432.66L577.5 439.28L573.69 440.94L572.86 436.3L551.33 446.24Z"/>
<path class="l" d="M551.33 439.94L571.2 431M551.66 442.92L572.86 433.82M570.38 428.35L571.2 431L572.86 436.3M552.99 446.24L553.82 444.91M555.47 445.24L556.3 443.92M557.96 444.25L558.78 442.92M560.44 443.26L561.27 441.93M562.92 442.26L563.75 440.94M565.41 441.27L566.24 439.94M567.89 440.27L568.72 438.95M574.18 437.13L574.52 439.61"/>
<path class="w" d="M543.88 434.64L546.37 432.99L550.5 436.3L550.5 445.9L547.19 446.57L543.88 443.26Z"/>
<circle class="l" cx="547.19" cy="438.29" r="1.16"/><circle class="l" cx="547.52" cy="443.75" r="0.83"/>
<!-- bolt 91234A -->
<path class="w" d="M532.29 459.15L538.42 454.85Q540.07 454.85 539.74 456.5L533.95 461.47Z"/>
<path class="l" d="M533.95 458.16L535.11 460.31M535.6 457L536.76 459.15M537.26 455.84L538.42 457.83"/>
<path class="w" d="M526.16 460.31Q526.49 457.5 529.48 457L532.79 458.16L533.95 461.47L532.29 464.45L528.48 464.78L526.16 462.79Z" stroke-width="1.6"/>
<ellipse class="l" cx="529.81" cy="461.14" rx="1.66" ry="1.99"/>
</g>
<g>
<path class="d" d="M683.82 413.1V509.69M746.61 435.18V695.98"/>
<path class="l" d="M662.44 450.08H680.37M663.13 482.37H681.06M663.13 511.35H681.06"/>
<!-- gasket 26259 -->
<path class="w" d="M680.37 450.36L685.2 446.22L692.79 443.73L698.31 445.11L699 448.29L694.86 452.43L687.96 455.19L681.75 453.81Z" stroke-width="1.4"/>
<ellipse class="l" cx="689.34" cy="449.39" rx="3.04" ry="1.79" transform="rotate(-12 689.34 449.39)"/>
<circle class="l" cx="683.82" cy="451.74" r="0.83"/><circle class="l" cx="695.55" cy="446.49" r="0.83"/>
<!-- strainer 26250 -->
<path class="w" d="M694.17 482.1L698.31 487.62L706.59 491.06L713.49 493.13L711.42 501.41L699.69 497.96L691.41 493.13L686.58 485.55Z"/>
<path class="w" d="M681.06 480.72L685.2 475.2L692.79 472.71L698.31 474.09L698.31 477.96L694.17 482.1L687.27 484.58L681.75 484.17Z" stroke-width="1.6"/>
<path class="l" d="M681.06 482.1L681.75 485.55L687.55 485.96L694.45 483.48L698.31 479.34"/>
<ellipse class="l" cx="688.93" cy="478.37" rx="3.04" ry="1.79" transform="rotate(-12 688.93 478.37)"/>
<ellipse class="l" cx="688.93" cy="478.65" rx="1.93" ry="0.97" transform="rotate(-12 688.93 478.65)"/>
<circle class="l" cx="684.1" cy="481.41" r="0.83"/><circle class="l" cx="695.55" cy="475.47" r="0.83"/>
<path class="w" d="M712.11 494.51L719.01 491.75L728.67 492.44L733.5 495.89L734.88 499.34L737.64 500.03L736.26 503.48L730.05 506.24L728.67 509.69L723.15 510.38L720.39 508.31L713.49 506.24L712.11 502.79L711.42 498.65Z" stroke-width="1.4"/>
<path class="l" d="M719.01 493.82Q725.91 492.44 732.12 496.17M714.87 502.79Q724.53 504.17 734.88 500.03M713.49 495.2L714.87 502.79L712.8 505.83M720.39 508.31L730.05 506.24M711.42 497.27L710.04 500.72"/>
<!-- nut 1339GA -->
<path class="w" d="M681.06 510.38L683.13 509L685.89 509.69L687 512.18L685.62 514.52L682.44 514.94L680.65 513.14Z" stroke-width="1.5"/>
<ellipse class="l" cx="683.82" cy="512.18" rx="1.66" ry="1.38"/>
</g>
</g>
<!-- oil pan 21510, washer 21513A, drain plug 21512, bolt 21516A -->
<g id="oilpan">
<g>
<path class="w" d="M678.48 631.9L680.63 639.35Q683.12 643.49 688.09 645.15L701.33 648.46Q716.24 649.95 729.48 647.63Q736.11 645.98 739.42 642.67L743.06 635.71L732.79 632.73Z" stroke-width="1.4"/>
<path class="l" d="M687.26 637.7L688.09 644.65M701.33 641.01L701.33 647.96M707.96 641.34L707.96 648.63M724.52 641.01L724.85 647.96M730.31 640.68L730.81 646.97"/>
<path class="h" fill="#fff" d="M662.42 612.86L664.9 606.24L674.84 592.99L688.09 586.37L699.68 584.71L706.3 588.02L712.92 592.99L721.2 593.82L744.39 593.32L749.35 597.13L762.6 604.58L768.4 607.89L770.88 616.17L765.91 621.14L755.98 626.11L744.39 632.73L736.11 637.7L724.52 638.53L702.99 636.87L683.12 631.9L678.15 632.73L669.87 622.79L663.25 617.83Z"/>
<path class="l" d="M665.23 612.86L667.39 607.06L676.49 595.47L688.91 588.85L699.35 587.36L705.47 590.17L712.1 595.14L721.2 596.3L743.56 595.8L748.03 599.12L761.28 606.57L766.24 609.55L767.9 615.34L764.26 619.15L754.65 624.12L743.56 630.58L735.28 635.21L724.52 636.04L703.32 634.39L683.95 629.42L679.81 630.25L671.86 621.47L665.9 616.5Z"/>
<path class="l" d="M676.49 595.47L680.63 597.13L679.81 602.92L671.53 614.52L674.84 619.48L683.12 629.42M688.91 588.85L691.4 594.64L685.6 607.89L680.63 612.86L688.09 626.11L693.05 632.73M685.6 607.89L689.74 617.83L693.05 619.48M699.35 587.36L700.5 592.99L704.64 596.3M688.09 607.89L699.68 599.61L704.64 596.3M688.09 607.89L691.4 612.86L719.55 632.73M691.4 612.86L694.71 617.83L722.86 635.21M711.27 609.55L716.24 606.24L727.83 612.86L736.11 627.76L732.79 631.07L719.55 622.79L709.61 615.34ZM712.1 595.14L712.92 601.27L716.24 606.24M732.79 601.27L736.11 599.61L742.73 606.24L749.35 617.83L744.39 629.42M732.79 601.27L731.14 606.24L742.73 626.11M736.11 599.61L749.35 612.86L755.98 624.45M721.2 596.3L722.03 602.1L717.89 602.92L716.24 597.13M743.56 595.8L744.39 599.61L740.25 600.44L739.42 596.3M748.03 599.12L759.29 606.24L764.26 609.55L762.6 612.86L757.63 609.55"/>
<path class="l" d="M668.21 624.45Q666.56 626.11 669.04 629.42L672.35 630.25"/>
<ellipse cx="707.13" cy="600.44" rx="3.97" ry="4.64" fill="#fff" stroke="#1a1a1a" stroke-width="1.6"/>
<ellipse class="l" cx="707.46" cy="600.77" rx="1.99" ry="2.48"/>
<circle class="l" cx="677.32" cy="593.32" r="0.99"/><circle class="l" cx="699.68" cy="586.03" r="0.99"/><circle class="l" cx="720.38" cy="594.64" r="0.99"/><circle class="l" cx="743.56" cy="594.64" r="0.99"/><circle class="l" cx="761.77" cy="605.74" r="0.99"/><circle class="l" cx="764.26" cy="619.48" r="0.99"/><circle class="l" cx="746.04" cy="630.25" r="0.99"/><circle class="l" cx="726.17" cy="636.87" r="0.99"/><circle class="l" cx="702.99" cy="635.21" r="0.99"/><circle class="l" cx="682.29" cy="630.25" r="0.99"/><circle class="l" cx="669.87" cy="619.48" r="0.99"/><circle class="l" cx="668.21" cy="605.74" r="0.99"/>
<path class="d" d="M724.52 593.82L773.36 575.6M779.16 573.12L799.03 566.49"/>
<path class="l" d="M775.35 554.08V571.46M806.48 568.15V584.71"/>
<!-- washer -->
<ellipse cx="775.85" cy="574.77" rx="2.65" ry="3.31" fill="#fff" stroke="#1a1a1a" stroke-width="2"/>
<ellipse class="l" cx="776.18" cy="575.11" rx="1.16" ry="1.66"/>
<!-- drain plug -->
<path class="w" d="M798.7 564.01L802.01 562.02L803.67 566.83L800.36 568.48Z" style="stroke-width:1.5px"/>
<path class="w" d="M802.01 561.2Q804.83 558.55 808.64 560.2L810.62 563.18Q810.29 566.16 807.31 567.32L803.67 566.83Z" style="stroke-width:1.9px"/>
<path class="l" d="M803.17 562.69Q805.65 561.2 808.14 562.85L808.97 565.67M799.86 564.84L801.02 567.32M804.83 564.84Q806.48 563.51 808.14 564.84" style="stroke-width:1.2px"/>
</g>
<!-- bolt 21516A -->
<path class="l" d="M750.3 694.4H767"/>
<path d="M744.2 689.6H748.9V692.4H748V697.4Q746.5 698.6 745.1 697.4V692.4H744.2Z" fill="#333" stroke="#111" stroke-width="0.8"/>
</g>
<!-- sealant tube in 21451B box -->
<g id="tube" fill="#fff" stroke="#333" stroke-width="0.9">
<path d="M1021.45 683.85L1025.31 682.89L1032.21 683.58L1046.01 685.65L1038.42 691.58L1032.21 689.79L1025.31 689.1L1022.28 687.72Z"/>
<path d="M1038.42 691.58L1036.35 689.79L1043.94 685.65L1046.01 685.65"/>
<path d="M1032.21 683.58Q1034.28 686.34 1032.21 689.79M1025.31 682.89Q1023.24 685.65 1025.31 689.1"/>
<path d="M1021.45 684.68L1018.41 683.85Q1014.27 683.85 1012.62 686.06Q1012.62 687.72 1014.27 687.72Q1015.93 686.06 1018.41 686.34L1021.86 687.16"/>
</g>
<!-- VIEW A : front cover bolt map -->
<g id="viewA">
<path d="M181.7 595.2L181.7 595.2L183.1 600.5L183.1 600.7L183.1 600.8L183.1 600.9L182.4 609.0L182.4 609.0L182.4 609.0L183.8 614.5L183.8 614.5L183.8 614.5L190.4 618.1L190.5 618.2L190.6 618.2L190.7 618.3L190.7 618.4L190.8 618.5L190.9 618.6L196.1 627.7L196.1 627.8L196.2 627.9L196.2 628.1L196.2 628.2L196.9 636.2L196.9 636.2L196.9 636.2L202.9 641.5L203.0 641.6L203.1 641.7L203.1 641.8L203.2 641.9L203.2 642.0L206.6 651.4L206.6 651.4L206.6 651.4L214.0 658.1L214.1 658.2L214.1 658.3L214.2 658.4L214.3 658.5L217.6 665.2L217.6 665.2L217.6 665.2L221.0 669.3L221.1 669.3L221.1 669.3L229.3 670.7L229.4 670.7L242.9 671.4L243.1 671.4L243.2 671.4L243.3 671.5L248.6 673.5L248.7 673.5L248.7 673.5L255.5 673.5L255.6 673.5L255.6 673.5L260.9 670.8L261.0 670.7L261.1 670.7L261.2 670.7L274.8 668.0L274.9 668.0L274.9 667.9L279.7 665.2L279.7 665.2L279.7 665.2L280.4 655.6L280.4 655.5L281.8 645.9L281.8 645.9L281.8 645.9L279.3 642.2L279.3 642.1L279.2 642.0L279.2 641.9L279.2 641.8L279.1 641.7L279.1 641.5L279.1 641.4L279.2 641.3L279.2 641.2L280.2 638.2L280.2 638.1L280.3 637.9L280.4 637.8L280.4 637.7L280.5 637.7L280.6 637.6L280.7 637.5L280.8 637.5L281.0 637.4L288.6 634.8L288.7 634.8L288.7 634.8L293.5 630.7L293.5 630.7L293.5 630.7L295.6 626.6L295.6 626.6L295.6 626.5L293.5 621.1L293.5 621.0L293.5 621.0L290.3 618.5L290.3 618.4L290.2 618.3L290.1 618.2L290.0 618.1L290.0 618.0L289.9 617.9L287.3 609.0L287.3 609.0L287.3 609.0L283.2 600.9L283.2 600.8L283.1 600.6L283.1 600.5L282.5 595.8L282.5 595.7L282.5 595.5L282.5 595.4L282.6 595.3L282.6 595.2L282.7 595.1L282.7 595.0L282.8 594.9L282.9 594.8L285.2 592.5L285.2 592.4L285.2 592.4L285.9 580.5L285.9 580.3L285.9 580.2L286.0 580.1L286.0 580.0L286.1 579.9L286.2 579.8L286.2 579.7L290.0 575.9L290.0 575.9L290.1 575.9L292.1 567.6L292.1 567.6L292.1 567.6L291.4 556.6L291.4 556.5L291.4 545.2L291.4 545.1L291.4 545.0L291.5 544.9L291.5 544.8L291.5 544.7L291.6 544.6L293.5 541.4L293.5 541.4L295.8 537.3L295.8 537.3L295.8 537.2L294.9 531.8L294.9 531.7L293.6 526.2L293.6 526.0L293.6 525.9L293.6 525.8L293.6 525.7L293.6 525.6L293.7 525.5L293.7 525.4L293.8 525.3L293.8 525.2L293.9 525.1L296.7 522.1L296.7 522.1L296.7 522.1L296.9 518.7L296.9 518.6L296.9 518.6L294.2 515.2L294.2 515.2L291.4 511.4L291.3 511.3L291.3 511.2L291.2 511.1L291.2 511.0L291.2 510.9L291.2 510.7L291.2 510.6L291.4 505.8L291.4 505.7L291.5 505.6L291.5 505.5L291.5 505.4L291.6 505.3L294.8 500.2L294.8 500.1L294.9 500.0L295.0 500.0L295.1 499.9L299.7 496.6L299.7 496.6L299.7 496.5L302.5 493.1L302.5 493.1L302.5 493.1L302.5 486.2L302.5 486.2L302.5 486.2L299.0 481.4L299.0 481.4L299.0 481.4L294.2 478.6L294.2 478.6L294.2 478.6L280.8 479.3L280.7 479.3L280.6 479.3L280.5 479.3L280.4 479.2L280.2 479.2L280.1 479.1L280.0 479.0L277.1 476.7L277.0 476.6L277.0 476.5L276.9 476.5L276.8 476.4L272.8 469.7L272.8 469.7L272.8 469.6L266.6 465.5L266.6 465.5L266.6 465.5L228.0 465.2L227.9 465.2L221.1 465.8L221.1 465.8L221.0 465.8L216.3 469.6L216.2 469.7L216.2 469.7L212.9 476.4L212.8 476.5L212.7 476.6L212.6 476.7L210.3 479.0L210.2 479.1L210.1 479.2L210.0 479.2L209.9 479.3L209.8 479.3L209.7 479.3L209.6 479.3L186.6 480.7L186.6 480.7L186.6 480.7L186.6 497.2L186.6 497.3L186.6 497.3L188.7 498.3L188.8 498.4L188.9 498.5L189.0 498.5L189.1 498.6L189.2 498.7L189.2 498.8L189.3 498.9L189.3 499.1L189.4 499.2L189.4 499.3L190.7 512.4L190.7 512.5L192.1 519.3L192.1 519.3L195.5 537.3L195.5 537.3L197.6 545.5L197.6 545.6L197.6 545.6L199.5 549.4L199.6 549.5L199.6 549.6L199.6 549.8L199.7 549.9L199.7 550.0L199.7 553.8L199.7 553.8L200.1 566.1L200.1 566.2L200.1 566.3L199.0 572.9L199.0 573.0L199.0 573.1L198.9 573.2L198.9 573.3L194.9 579.9L194.8 580.0L194.7 580.1L189.4 585.5L189.3 585.6L183.8 589.7L183.8 589.7L183.8 589.7L181.7 595.2L181.7 595.2Z" fill="#fff" stroke="#1a1a1a" stroke-width="1"/>
<path d="M203.5 489.9L205.4 493.2L207.9 496.0L200.2 512.0L200.2 512.9L200.8 513.7L201.9 513.9L202.8 513.2L210.2 497.8L214.3 499.8L218.5 500.6L218.5 516.9L218.8 517.7L219.3 518.2L220.0 518.3L220.6 518.2L221.2 517.7L221.4 517.0L221.4 500.6L225.5 499.8L229.0 498.2L238.4 514.4L239.0 514.9L239.7 515.0L240.3 514.8L240.8 514.3L241.1 513.5L240.9 512.8L231.4 496.5L233.4 494.7L235.5 491.7L236.4 489.9L237.6 486.5L234.8 485.7L234.3 487.3L233.0 490.2L232.2 491.5L230.1 493.9L227.5 495.7L226.1 496.5L223.1 497.4L221.4 497.7L221.4 483.1L221.2 482.4L220.6 481.9L220.0 481.8L219.3 481.9L218.8 482.4L218.5 483.1L218.4 497.7L215.3 497.0L212.4 495.7L209.9 493.9L208.7 492.8L206.9 490.2L206.2 488.8L205.2 485.7L204.8 485.8L204.8 481.4L204.2 480.3L203.5 480.0L198.2 480.3L198.2 483.2L201.6 483.2L201.6 487.1L202.5 487.1L203.5 489.9ZM276.4 551.3L277.1 550.9L277.5 550.1L277.4 549.3L276.8 548.7L268.1 546.4L272.0 529.8L271.8 528.8L271.0 528.3L270.2 528.4L269.5 529.2L265.6 545.7L235.3 538.0L248.4 531.5L248.9 530.8L249.0 530.1L248.6 529.4L247.9 528.9L246.9 529.1L231.0 536.9L196.9 528.2L195.8 528.3L195.2 529.2L195.3 530.3L196.2 531.0L227.0 538.9L201.9 551.2L201.3 551.8L201.2 552.7L201.5 553.3L202.2 553.8L203.3 553.7L231.3 540.0L236.8 541.4L232.3 560.1L206.8 552.9L206.0 552.9L205.5 553.3L205.1 554.1L205.1 554.8L205.5 555.4L206.1 555.7L231.6 562.9L227.7 579.0L228.0 580.0L228.8 580.6L229.9 580.4L230.5 579.6L234.4 563.7L259.7 570.9L256.4 585.1L243.7 581.6L242.6 581.8L242.1 582.8L242.2 583.7L243.0 584.4L255.8 587.9L252.7 601.1L252.9 601.9L253.7 602.5L254.5 602.4L255.2 601.7L258.3 588.6L279.1 594.4L280.1 594.2L280.7 593.6L280.7 592.4L279.9 591.6L258.9 585.8L262.3 571.6L274.7 575.1L275.7 574.9L276.2 574.3L276.3 573.2L275.5 572.3L262.9 568.7L267.5 549.2L275.7 551.3L276.4 551.3ZM265.0 548.6L260.4 568.0L235.1 560.9L239.6 542.1L265.0 548.6ZM278.2 502.5L278.4 503.2L279.0 503.7L279.8 503.6L280.4 503.2L287.1 490.3L287.1 489.5L286.6 488.8L285.7 488.7L285.0 489.2L278.2 502.5ZM276.5 508.0L277.3 508.1L277.9 507.9L278.3 507.3L278.2 506.5L269.3 490.8L268.6 490.3L267.8 490.4L267.2 491.1L267.2 492.0L276.5 508.0ZM254.3 492.6L254.0 491.7L253.3 491.2L252.3 491.3L251.7 491.8L241.0 510.8L241.0 511.8L241.5 512.6L242.6 512.8L243.6 512.2L254.1 493.3L254.3 492.6ZM252.6 526.6L253.5 526.5L254.2 525.8L254.3 524.8L253.9 524.1L244.2 516.8L243.3 516.6L242.4 517.0L242.0 518.0L242.5 519.1L252.0 526.3L252.6 526.6ZM232.6 528.0L233.0 528.9L233.7 529.3L234.7 529.3L235.3 528.7L240.4 518.5L240.4 517.5L239.8 516.8L238.7 516.6L237.8 517.2L232.8 527.3L232.6 528.0Z" fill="none" stroke="#1c1c1c" stroke-width="0.95" stroke-linejoin="round"/>
<path d="M198.2 481.6L212.0 481.6L215.3 477.1L218.6 471.6L224.2 468.9L248.4 468.9M212.0 481.6L246.2 481.6M226.4 469.4L226.4 481.3M229.1 469.4L229.1 481.3M237.4 469.4L237.4 479.4M236.3 470.0L242.9 470.0L242.9 473.8L239.6 474.9L237.4 473.8M186.6 488.2L195.5 488.7L197.1 492.6L195.5 497.0L186.6 497.6M276.0 486.5L290.4 486.0L291.0 479.9M290.4 486.0L297.0 492.6M300.0 497.0L293.7 500.3L290.4 505.8L291.5 511.4L294.8 514.7L295.9 522.4L292.6 526.8L294.8 535.7L292.6 545.0M253.4 502.5L254.0 516.9L257.3 521.3M251.2 503.1L251.8 518.0L254.0 522.4M261.1 492.6L261.1 511.4L258.9 513.0L259.5 516.3L265.0 516.9L265.0 510.3L283.8 514.7L281.6 522.4L263.9 519.1L262.2 516.9M263.9 492.6L263.9 510.3M235.2 494.8L241.8 491.5L247.3 495.9M210.9 522.4L210.9 530.1M235.8 530.1L237.4 535.7M274.9 484.9L277.2 487.1L273.8 488.7L272.2 486.0M241.3 543.8L248.4 562.6M256.2 547.1L250.7 562.6M209.3 557.1L210.4 571.4L213.1 581.4M212.6 558.2L215.3 579.2M223.1 560.9L224.2 578.1M231.3 562.0L227.5 578.1M213.1 582.5L216.4 580.3L220.8 582.5L225.3 579.2L229.7 581.4L235.2 579.2L240.7 581.4L242.9 586.9L240.7 591.3L235.2 593.5L229.7 591.3L226.4 592.4L225.3 599.0L224.2 591.3L220.8 589.1L216.4 592.4L213.1 588.0ZM201.0 571.4L202.6 575.8L201.0 580.3L196.6 581.4L193.2 580.3M207.6 568.1L206.5 577.0L202.1 584.7L193.2 589.1M192.1 591.3L206.5 603.4L212.0 600.1L216.4 603.4L215.3 610.1L210.9 615.0M188.8 600.1L196.6 597.9L202.1 602.3L204.3 606.8L194.4 607.9L189.9 605.7ZM224.2 610.1L228.6 604.6L237.4 601.8L252.9 601.8L257.3 600.1L263.9 599.0L268.3 602.3L271.6 601.2L273.8 596.8L278.3 595.2L283.8 597.9M256.2 603.4L261.7 605.7L268.3 604.6M282.7 535.0L283.8 557.1L281.6 571.4L277.2 577.0L273.8 575.8M274.9 573.6L277.2 577.0M183.3 590.2L182.2 601.2L184.4 611.2M186.6 605.5L202.1 622.1L207.6 627.6L213.1 644.2L222.0 659.6L228.6 664.0L241.8 667.3L251.8 666.2L263.9 664.0L270.5 658.5L277.2 648.6L279.4 636.4M213.1 622.1L215.3 633.1L222.0 655.2M224.2 609.9L228.6 604.4L237.4 602.2L251.8 602.2L259.5 604.4L268.3 603.3L277.2 605.5L283.8 611.0L290.4 619.9M227.5 613.2L231.9 618.8L240.7 615.5L241.8 611.6L246.2 611.6L246.8 615.5L255.1 616.6L259.5 622.1L261.7 629.8L259.5 638.6L255.1 645.3L248.4 649.7L241.8 651.9L233.0 650.8L229.7 646.4L225.3 645.3L224.2 642.0L226.4 639.7L225.3 636.4L219.7 635.9L219.2 634.2L224.2 633.1L223.6 627.6L220.8 626.5L219.7 623.7L222.0 621.5L225.3 622.1L228.6 617.7ZM269.4 611.0L277.2 608.8L278.3 610.5L273.8 613.2L274.9 622.1L277.2 628.7L273.8 633.1L274.9 637.5M277.2 627.6L284.9 622.6L286.0 624.3L279.4 629.3M292.6 628.7L295.9 628.7L295.9 633.1L290.4 636.4M188.8 603.3L202.1 606.6L206.5 603.3L213.1 606.6L215.3 612.1L212.0 622.1M251.8 622.1L256.2 626.5M250.7 636.4L256.2 639.7" fill="none" stroke="#1c1c1c" stroke-width="0.95" stroke-linejoin="round"/>
<circle cx="240.7" cy="514.9" r="4.2" fill="#fff" stroke="#1c1c1c" stroke-width="0.95"/>
<circle cx="240.7" cy="514.9" r="2.0" fill="none" stroke="#1c1c1c" stroke-width="0.95"/>
<circle cx="256.2" cy="528.3" r="5.0" fill="#fff" stroke="#1c1c1c" stroke-width="0.95"/>
<circle cx="256.2" cy="528.3" r="2.2" fill="none" stroke="#1c1c1c" stroke-width="0.95"/>
<circle cx="202.6" cy="552.4" r="3.3" fill="#fff" stroke="#1c1c1c" stroke-width="0.95"/>
<circle cx="202.6" cy="552.4" r="1.7" fill="none" stroke="#1c1c1c" stroke-width="0.95"/>
<ellipse cx="205.9" cy="518.5" rx="5.0" ry="6.2" fill="none" stroke="#1c1c1c" stroke-width="0.95"/>
<ellipse cx="224.2" cy="522.4" rx="6.4" ry="7.5" fill="none" stroke="#1c1c1c" stroke-width="0.95"/>
<ellipse cx="284.9" cy="527.9" rx="4.0" ry="5.5" fill="none" stroke="#1c1c1c" stroke-width="0.95"/>
<circle cx="262.2" cy="478.8" r="11.3" fill="#fff" stroke="#1a1a1a" stroke-width="1.6"/>
<circle cx="262.2" cy="478.8" r="9.8" fill="none" stroke="#1a1a1a" stroke-width="0.9"/>
<ellipse cx="207.6" cy="591.3" rx="3.5" ry="3.5" fill="none" stroke="#1c1c1c" stroke-width="0.95"/>
<ellipse cx="207.8" cy="591.5" rx="1.3" ry="1.3" fill="none" stroke="#1c1c1c" stroke-width="0.95"/>
<ellipse cx="289.3" cy="558.7" rx="1.3" ry="1.3" fill="none" stroke="#1c1c1c" stroke-width="0.95"/>
<circle cx="239.6" cy="630.4" r="10.9" fill="none" stroke="#1c1c1c" stroke-width="0.95"/>
<circle cx="239.6" cy="630.4" r="9.7" fill="none" stroke="#1c1c1c" stroke-width="0.95"/>
<circle cx="239.6" cy="630.4" r="7.6" fill="none" stroke="#1c1c1c" stroke-width="0.95"/>
<ellipse cx="256.2" cy="632.0" rx="3.1" ry="2.4" fill="none" stroke="#1c1c1c" stroke-width="0.95"/>
<ellipse cx="246.2" cy="648.2" rx="3.3" ry="2.4" transform="rotate(-25 246.2 648.2)" fill="none" stroke="#1c1c1c" stroke-width="0.95"/>
<ellipse cx="260.6" cy="654.1" rx="3.3" ry="3.3" fill="none" stroke="#1c1c1c" stroke-width="0.95"/>
<ellipse cx="273.8" cy="640.8" rx="2.2" ry="2.2" fill="none" stroke="#1c1c1c" stroke-width="0.95"/>
</g>
<!-- bolt callouts -->
<g id="callouts">
<circle cx="166" cy="483.2" r="7.6" fill="#fff" stroke="#1a1a1a" stroke-width="1"/>
<path d="M190 483.2L173.6 483.2" stroke="#1a1a1a" stroke-width="1.1" fill="none"/>
<circle cx="190" cy="483.2" r="3.4" fill="#fff" stroke="#1a1a1a" stroke-width="0.9"/>
<circle cx="190" cy="483.2" r="2.2" fill="#000"/>
<text x="166" y="487.2" text-anchor="middle" style="font-size:11.5px;stroke-width:0.45px">1</text>
<circle cx="166.9" cy="515.9" r="7.6" fill="#fff" stroke="#1a1a1a" stroke-width="1"/>
<path d="M191.8 515.9L174.5 515.9" stroke="#1a1a1a" stroke-width="1.1" fill="none"/>
<circle cx="191.8" cy="515.9" r="3.4" fill="#fff" stroke="#1a1a1a" stroke-width="0.9"/>
<circle cx="191.8" cy="515.9" r="2.2" fill="#000"/>
<text x="166.9" y="519.9" text-anchor="middle" style="font-size:11.5px;stroke-width:0.45px">1</text>
<circle cx="174.8" cy="541.7" r="7.6" fill="#fff" stroke="#1a1a1a" stroke-width="1"/>
<path d="M199.3 541.7L182.4 541.7" stroke="#1a1a1a" stroke-width="1.1" fill="none"/>
<circle cx="199.3" cy="541.7" r="3.4" fill="#fff" stroke="#1a1a1a" stroke-width="0.9"/>
<circle cx="199.3" cy="541.7" r="2.2" fill="#000"/>
<text x="174.8" y="545.7" text-anchor="middle" style="font-size:11.5px;stroke-width:0.45px">1</text>
<circle cx="176.9" cy="567.2" r="7.6" fill="#fff" stroke="#1a1a1a" stroke-width="1"/>
<path d="M201.7 567.2L184.5 567.2" stroke="#1a1a1a" stroke-width="1.1" fill="none"/>
<circle cx="201.7" cy="567.2" r="3.4" fill="#fff" stroke="#1a1a1a" stroke-width="0.9"/>
<circle cx="201.7" cy="567.2" r="2.2" fill="#000"/>
<text x="176.9" y="571.2" text-anchor="middle" style="font-size:11.5px;stroke-width:0.45px">1</text>
<circle cx="161.6" cy="588" r="7.6" fill="#fff" stroke="#1a1a1a" stroke-width="1"/>
<path d="M186.8 588L163.1 588.0" stroke="#1a1a1a" stroke-width="1.1" fill="none"/>
<circle cx="186.8" cy="588" r="3.4" fill="#fff" stroke="#1a1a1a" stroke-width="0.9"/>
<circle cx="186.8" cy="588" r="2.2" fill="#000"/>
<text x="161.6" y="592.0" text-anchor="middle" style="font-size:11.5px;stroke-width:0.45px">1</text>
<circle cx="159.4" cy="612.4" r="7.6" fill="#fff" stroke="#1a1a1a" stroke-width="1"/>
<path d="M183.8 612.4L160.9 612.4" stroke="#1a1a1a" stroke-width="1.1" fill="none"/>
<circle cx="183.8" cy="612.4" r="3.4" fill="#fff" stroke="#1a1a1a" stroke-width="0.9"/>
<circle cx="183.8" cy="612.4" r="2.2" fill="#000"/>
<text x="159.4" y="616.4" text-anchor="middle" style="font-size:11.5px;stroke-width:0.45px">1</text>
<circle cx="175.8" cy="630" r="7.6" fill="#fff" stroke="#1a1a1a" stroke-width="1"/>
<path d="M200.5 630L183.4 630.0" stroke="#1a1a1a" stroke-width="1.1" fill="none"/>
<circle cx="200.5" cy="630" r="3.4" fill="#fff" stroke="#1a1a1a" stroke-width="0.9"/>
<circle cx="200.5" cy="630" r="2.2" fill="#000"/>
<text x="175.8" y="634.0" text-anchor="middle" style="font-size:11.5px;stroke-width:0.45px">1</text>
<circle cx="184.5" cy="653.7" r="7.6" fill="#fff" stroke="#1a1a1a" stroke-width="1"/>
<path d="M209.3 653.9L192.1 653.8" stroke="#1a1a1a" stroke-width="1.1" fill="none"/>
<circle cx="209.3" cy="653.9" r="3.4" fill="#fff" stroke="#1a1a1a" stroke-width="0.9"/>
<circle cx="209.3" cy="653.9" r="2.2" fill="#000"/>
<text x="184.5" y="657.7" text-anchor="middle" style="font-size:11.5px;stroke-width:0.45px">1</text>
<circle cx="199.7" cy="668.9" r="7.6" fill="#fff" stroke="#1a1a1a" stroke-width="1"/>
<path d="M224.9 668.9L207.3 668.9" stroke="#1a1a1a" stroke-width="1.1" fill="none"/>
<circle cx="224.9" cy="668.9" r="3.4" fill="#fff" stroke="#1a1a1a" stroke-width="0.9"/>
<circle cx="224.9" cy="668.9" r="2.2" fill="#000"/>
<text x="199.7" y="672.9" text-anchor="middle" style="font-size:11.5px;stroke-width:0.45px">1</text>
<circle cx="252.4" cy="697.2" r="7.6" fill="#fff" stroke="#1a1a1a" stroke-width="1"/>
<path d="M252.1 672.8L252.3 689.6" stroke="#1a1a1a" stroke-width="1.1" fill="none"/>
<circle cx="252.1" cy="672.8" r="3.4" fill="#fff" stroke="#1a1a1a" stroke-width="0.9"/>
<circle cx="252.1" cy="672.8" r="2.2" fill="#000"/>
<text x="252.4" y="701.2" text-anchor="middle" style="font-size:11.5px;stroke-width:0.45px">1</text>
<circle cx="302" cy="666.2" r="7.6" fill="#fff" stroke="#1a1a1a" stroke-width="1"/>
<path d="M276.9 666.2L294.4 666.2" stroke="#1a1a1a" stroke-width="1.1" fill="none"/>
<circle cx="276.9" cy="666.2" r="3.4" fill="#fff" stroke="#1a1a1a" stroke-width="0.9"/>
<circle cx="276.9" cy="666.2" r="2.2" fill="#000"/>
<text x="302" y="670.2" text-anchor="middle" style="font-size:11.5px;stroke-width:0.45px">1</text>
<circle cx="307.7" cy="640.4" r="7.6" fill="#fff" stroke="#1a1a1a" stroke-width="1"/>
<path d="M283.2 640.4L300.1 640.4" stroke="#1a1a1a" stroke-width="1.1" fill="none"/>
<circle cx="283.2" cy="640.4" r="3.4" fill="#fff" stroke="#1a1a1a" stroke-width="0.9"/>
<circle cx="283.2" cy="640.4" r="2.2" fill="#000"/>
<text x="307.7" y="644.4" text-anchor="middle" style="font-size:11.5px;stroke-width:0.45px">1</text>
<circle cx="318.3" cy="623.5" r="7.6" fill="#fff" stroke="#1a1a1a" stroke-width="1"/>
<path d="M294.9 623.5L310.7 623.5" stroke="#1a1a1a" stroke-width="1.1" fill="none"/>
<circle cx="294.9" cy="623.5" r="3.4" fill="#fff" stroke="#1a1a1a" stroke-width="0.9"/>
<circle cx="294.9" cy="623.5" r="2.2" fill="#000"/>
<text x="318.3" y="627.5" text-anchor="middle" style="font-size:11.5px;stroke-width:0.45px">1</text>
<circle cx="308.7" cy="598" r="7.6" fill="#fff" stroke="#1a1a1a" stroke-width="1"/>
<path d="M284.3 598L301.1 598.0" stroke="#1a1a1a" stroke-width="1.1" fill="none"/>
<circle cx="284.3" cy="598" r="3.4" fill="#fff" stroke="#1a1a1a" stroke-width="0.9"/>
<circle cx="284.3" cy="598" r="2.2" fill="#000"/>
<text x="308.7" y="602.0" text-anchor="middle" style="font-size:11.5px;stroke-width:0.45px">1</text>
<circle cx="312.1" cy="569.3" r="7.6" fill="#fff" stroke="#1a1a1a" stroke-width="1"/>
<path d="M288 569.3L304.5 569.3" stroke="#1a1a1a" stroke-width="1.1" fill="none"/>
<circle cx="288" cy="569.3" r="3.4" fill="#fff" stroke="#1a1a1a" stroke-width="0.9"/>
<circle cx="288" cy="569.3" r="2.2" fill="#000"/>
<text x="312.1" y="573.3" text-anchor="middle" style="font-size:11.5px;stroke-width:0.45px">1</text>
<circle cx="315.6" cy="539.8" r="7.6" fill="#fff" stroke="#1a1a1a" stroke-width="1"/>
<path d="M291.2 539.8L308.0 539.8" stroke="#1a1a1a" stroke-width="1.1" fill="none"/>
<circle cx="291.2" cy="539.8" r="3.4" fill="#fff" stroke="#1a1a1a" stroke-width="0.9"/>
<circle cx="291.2" cy="539.8" r="2.2" fill="#000"/>
<text x="315.6" y="543.8" text-anchor="middle" style="font-size:11.5px;stroke-width:0.45px">1</text>
<circle cx="318.3" cy="518.9" r="7.6" fill="#fff" stroke="#1a1a1a" stroke-width="1"/>
<path d="M294.6 518.9L310.7 518.9" stroke="#1a1a1a" stroke-width="1.1" fill="none"/>
<circle cx="294.6" cy="518.9" r="3.4" fill="#fff" stroke="#1a1a1a" stroke-width="0.9"/>
<circle cx="294.6" cy="518.9" r="2.2" fill="#000"/>
<text x="318.3" y="522.9" text-anchor="middle" style="font-size:11.5px;stroke-width:0.45px">1</text>
<circle cx="323.3" cy="493.3" r="7.6" fill="#fff" stroke="#1a1a1a" stroke-width="1"/>
<path d="M298.3 493.4L321.8 493.3" stroke="#1a1a1a" stroke-width="1.1" fill="none"/>
<circle cx="298.3" cy="493.4" r="3.4" fill="#fff" stroke="#1a1a1a" stroke-width="0.9"/>
<circle cx="298.3" cy="493.4" r="2.2" fill="#000"/>
<text x="323.3" y="497.3" text-anchor="middle" style="font-size:11.5px;stroke-width:0.45px">1</text>
<path d="M249.1 451V573" stroke="#6a6a6a" stroke-width="1.7" fill="none"/>
<circle cx="249.2" cy="443.2" r="7.6" fill="#fff" stroke="#1a1a1a" stroke-width="1"/>
<text x="249.2" y="447.3" text-anchor="middle" style="font-size:11.5px;stroke-width:0.45px">2</text>
<circle cx="248.9" cy="573.5" r="4.4" fill="#fff" stroke="#1a1a1a" stroke-width="1"/>
<circle cx="248.9" cy="573.5" r="2.2" fill="#000"/>
<circle cx="178.1" cy="423.4" r="8" fill="#fff" stroke="#1a1a1a" stroke-width="1"/>
<text x="178.1" y="427.4" text-anchor="middle" style="font-size:11.3px">A</text>
<path d="M137.6 432.2H186.9" stroke="#333" stroke-width="1.2" fill="none"/>
<circle cx="372" cy="671.7" r="7.8" fill="#fff" stroke="#1a1a1a" stroke-width="1"/>
<text x="372" y="675.8" text-anchor="middle" style="font-size:11.5px;stroke-width:0.45px">1</text>
<circle cx="372" cy="693.5" r="7.8" fill="#fff" stroke="#1a1a1a" stroke-width="1"/>
<text x="372" y="697.6" text-anchor="middle" style="font-size:11.5px;stroke-width:0.45px">2</text>
</g>
<g id="labels" transform="translate(0.3,-0.5)">
<text x="329.5" y="31.2">1140EM</text>
<text x="382.3" y="24.5">24360B</text>
<text x="162.6" y="161.6">26611</text>
<text x="232.2" y="169.3">26615</text>
<text x="329.6" y="269.6">26612B</text>
<text x="415.2" y="271.5">1170AA</text>
<text x="495.5" y="262.5">21421</text>
<text x="654.9" y="211">21350E</text>
<text x="788.1" y="237.3" style="fill:#666;stroke:#666;font-size:13.5px">REF.20-211A</text>
<text x="524.5" y="412.5">91932Z</text>
<text x="513" y="489.5">91234A</text>
<text x="623.8" y="454.5">26259</text>
<text x="624.3" y="486.8">26250</text>
<text x="614.5" y="515.6">1339GA</text>
<text x="887.5" y="420.9">21443</text>
<text x="754" y="549.9">21513A</text>
<text x="788.8" y="598.1">21512</text>
<text x="855.6" y="595.4">21510</text>
<text x="770.5" y="699.4">21516A</text>
<text x="1028.3" y="656.5" text-anchor="middle">21451B</text>
<text x="139.7" y="426.5" style="font-size:11.7px">VIEW</text>
<text x="372.3" y="654.4" text-anchor="middle" style="font-size:12px">NO.</text>
<text x="411.4" y="654.4" text-anchor="middle" style="font-size:12px">PNC</text>
<text x="411.4" y="676.6" text-anchor="middle">1140EB</text>
<text x="411.2" y="698.4" text-anchor="middle">21356E</text>
<text x="21" y="712.8" style="font-size:17.5px;font-weight:bold;fill:#000;stroke:none">FR.</text>
<polygon points="48.7,687.6 54.2,690.6 63.5,685.4 72.1,691 63.2,695.1 68.7,698.8 48.7,698.8" fill="#000"/>
</g>
</svg>
</body>
</html>
